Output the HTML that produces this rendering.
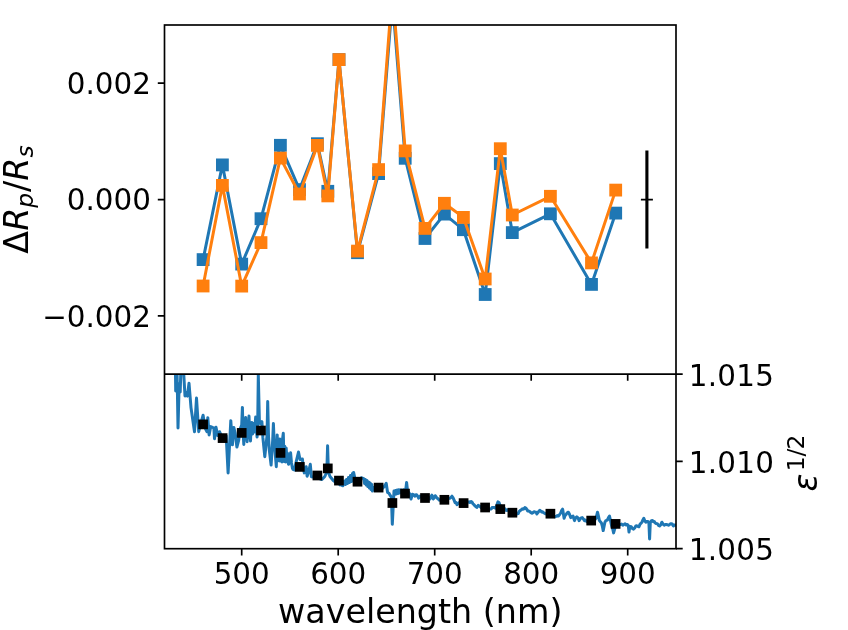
<!DOCTYPE html>
<html lang="en"><head><meta charset="utf-8"><title>wavelength plot</title>
<style>html,body{margin:0;padding:0;background:#fff}body{width:848px;height:630px;overflow:hidden}svg{display:block}text{font-family:"DejaVu Sans","Liberation Sans",sans-serif;fill:#000}.t{font-size:29.4px}.l{font-size:33.33px}.i{font-style:oblique}.s{font-size:23.33px}</style></head><body>
<svg width="848" height="630" viewBox="0 0 848 630">
<rect width="848" height="630" fill="#fff"/>
<defs><clipPath id="c1"><rect x="164.5" y="25.0" width="511.5" height="349.1"/></clipPath><clipPath id="c2"><rect x="164.5" y="374.1" width="511.5" height="174.60000000000002"/></clipPath></defs>
<g clip-path="url(#c2)"><polyline points="175.4,366.0 175.7,391.0 176.4,383.0 176.9,366.0 177.3,385.0 178.0,427.9 179.2,383.5 180.2,392.0 181.0,366.0 183.4,368.0 185.0,396.0 186.3,392.3 187.4,396.1 189.0,383.2 191.0,407.6 194.5,431.7 196.5,398.0 198.7,431.7 200.9,422.8 203.1,415.2 205.0,427.9 206.9,431.7 207.8,417.7 209.1,434.9 210.7,426.6 212.4,427.4 213.9,427.9 214.5,438.7 216.0,427.2 217.7,435.5 219.5,431.7 222.4,437.9 226.2,436.0 228.1,472.9 230.8,420.7 232.4,444.8 233.8,427.4 235.2,433.1 236.9,447.1 238.6,440.7 240.5,428.0 241.7,425.0 242.4,407.4 243.0,430.0 243.8,444.5 244.4,428.0 244.9,436.0 245.7,417.4 246.3,432.0 247.1,441.7 247.7,428.0 248.2,434.0 249.0,416.0 249.6,432.0 250.5,441.0 251.0,430.0 251.9,422.6 252.6,434.0 253.2,426.0 253.8,423.6 254.5,432.0 255.7,416.9 256.4,430.0 257.1,437.0 257.7,425.0 258.3,375.0 259.4,421.0 260.5,423.6 261.9,421.7 262.9,437.9 264.8,456.7 267.0,436.0 267.7,401.5 268.5,436.0 269.3,450.0 271.1,465.1 272.7,440.0 273.4,423.6 274.1,440.0 276.3,466.7 277.2,434.9 277.9,458.0 278.5,440.0 279.2,461.0 279.9,439.0 280.6,461.0 281.3,440.0 282.0,462.0 282.7,438.0 283.3,433.3 284.0,461.5 284.8,446.2 285.5,462.0 286.2,448.1 286.9,461.0 287.4,453.0 287.9,462.0 288.6,464.3 289.5,457.6 290.6,452.8 291.5,463.0 292.4,468.1 293.0,469.4 294.3,470.0 296.7,459.5 298.5,452.0 300.0,459.5 302.4,459.0 303.3,468.1 304.3,472.9 306.2,466.7 307.1,476.2 308.6,471.9 310.3,464.3 311.4,476.7 317.1,477.6 321.9,479.5 324.8,476.5 326.8,472.0 327.6,445.7 328.4,472.0 330.0,476.5 333.3,480.5 337.1,483.3 338.1,483.3 339.0,483.3 340.0,484.8 341.0,484.0 341.9,485.4 342.9,485.7 344.5,481.0 345.5,484.5 346.5,479.5 347.5,483.5 348.5,477.5 349.5,482.5 350.5,475.5 351.5,481.5 352.5,473.5 353.2,480.0 353.6,472.4 354.8,478.1 356.2,484.0 357.1,482.2 358.0,481.0 359.1,479.3 360.2,479.6 361.3,477.8 362.4,478.1 363.8,478.6 364.6,483.5 365.4,479.5 366.2,485.0 367.0,480.5 367.8,486.5 368.6,481.9 369.4,488.0 370.2,483.0 371.0,489.5 371.8,484.5 372.4,491.0 373.8,487.6 374.8,487.5 375.7,486.7 376.7,486.7 377.6,487.4 378.6,488.3 379.5,486.8 380.4,487.0 381.4,487.9 382.4,488.6 383.3,487.6 384.8,485.7 386.2,483.3 387.6,492.4 389.0,493.3 390.2,495.4 391.4,497.1 392.3,524.3 394.0,491.0 394.8,494.5 395.6,490.5 396.4,494.0 397.2,490.0 398.0,493.5 398.8,489.8 399.6,493.0 400.4,490.0 401.4,490.0 402.5,491.3 403.5,489.8 404.6,491.4 405.6,491.0 406.6,482.5 407.6,491.4 408.8,492.5 410.0,494.3 411.0,499.0 412.4,494.3 413.6,494.6 414.8,496.2 415.8,494.8 416.7,494.8 417.6,496.1 418.6,498.1 420.0,496.2 421.0,497.1 422.0,496.3 423.0,497.4 424.0,497.9 425.0,498.0 426.0,498.0 427.0,498.5 428.0,497.8 429.0,498.0 430.0,499.0 430.9,496.6 431.9,495.2 433.3,499.0 434.2,497.7 435.2,495.7 436.1,496.8 437.1,498.1 438.1,498.7 439.0,500.0 440.0,500.2 441.0,499.9 442.0,499.6 443.0,500.5 444.0,500.0 445.0,500.0 446.1,498.9 447.1,499.1 448.2,498.7 449.2,498.3 450.1,498.3 451.1,497.3 452.0,496.2 453.1,497.9 454.2,500.4 455.1,502.7 456.1,502.6 457.0,504.7 458.1,503.5 459.1,502.5 460.2,503.1 461.4,502.1 462.5,502.9 463.6,503.0 464.7,501.9 465.8,502.8 466.8,502.8 467.9,502.2 469.0,501.8 469.9,502.5 470.9,501.5 471.8,501.8 472.9,503.6 474.0,504.7 474.9,505.8 475.9,506.7 476.8,507.5 478.2,505.4 479.2,506.0 480.3,506.8 481.2,507.6 482.2,507.9 483.1,507.2 484.1,507.7 485.0,507.5 486.0,507.0 487.1,508.4 488.1,508.6 489.2,509.5 490.2,508.9 491.2,509.0 492.1,507.6 493.1,507.5 494.3,507.6 495.5,508.2 496.8,505.3 498.0,501.8 499.1,502.7 500.1,505.4 501.1,506.2 502.1,506.5 503.1,507.2 504.1,508.0 505.1,509.6 506.1,510.5 507.1,509.8 508.1,510.4 509.0,511.1 510.0,512.3 511.0,511.3 512.0,512.5 513.0,512.7 514.0,513.1 515.1,514.0 516.1,514.2 517.1,513.9 518.2,513.5 519.2,511.4 520.3,510.5 521.4,509.6 522.3,508.8 523.1,509.2 524.0,508.8 524.9,507.5 525.8,508.0 526.8,509.3 527.7,511.0 528.8,511.1 529.9,511.6 530.9,512.6 532.0,513.2 533.0,512.6 534.1,511.7 535.0,512.0 536.0,512.3 536.9,513.9 537.9,512.6 538.8,511.3 539.8,510.3 540.7,510.9 541.7,512.0 542.6,511.7 543.6,512.8 544.7,513.2 545.7,513.9 546.6,514.1 547.6,514.3 548.5,513.2 549.5,514.7 550.4,514.0 551.5,515.2 552.6,516.1 553.8,516.6 554.9,516.8 555.8,516.4 556.6,516.2 557.5,515.5 558.4,516.0 559.5,514.7 560.7,513.0 561.7,510.3 562.6,509.1 564.1,518.3 565.1,515.6 566.1,514.5 567.2,512.8 568.4,512.2 569.5,514.3 570.7,517.6 571.9,516.5 573.0,516.0 574.5,520.6 575.6,517.9 576.8,516.8 578.0,517.8 579.1,520.6 580.1,519.0 581.2,517.9 582.2,517.6 583.4,518.9 584.5,520.6 585.5,520.1 586.5,521.4 587.5,521.8 588.4,521.0 589.4,519.8 590.3,519.7 591.2,519.6 592.2,519.3 593.1,518.6 594.1,519.5 595.0,519.5 596.0,518.3 597.5,512.2 598.5,516.3 599.4,520.6 600.4,521.7 601.4,522.9 602.3,526.0 603.2,530.6 604.9,522.2 605.8,520.7 606.6,520.4 607.5,519.9 608.5,517.5 609.5,516.0 611.0,522.9 611.9,526.8 612.7,529.0 613.6,532.9 614.8,528.6 615.9,526.0 616.8,526.5 617.7,525.5 618.7,524.5 619.6,524.9 620.5,524.5 621.6,524.0 622.8,525.2 624.0,524.5 625.1,523.7 626.2,525.0 627.4,524.5 628.3,525.5 629.0,532.1 629.8,526.5 631.3,526.8 632.5,528.6 633.6,529.1 634.7,527.9 635.8,526.0 636.8,525.8 637.9,526.3 638.9,526.8 640.0,524.3 641.2,522.9 642.1,521.9 642.9,519.9 643.8,518.3 644.8,520.8 645.8,522.2 646.8,521.5 647.8,521.4 648.9,522.5 649.6,539.0 650.3,522.5 651.5,520.6 652.4,520.4 653.3,521.7 654.2,521.4 655.2,523.0 656.3,523.6 657.3,523.7 658.5,525.4 659.6,526.0 660.8,524.7 661.9,522.2 663.0,524.1 664.2,525.2 665.4,524.4 666.5,524.5 667.6,524.9 668.8,525.2 670.0,524.2 671.1,523.7 672.2,524.0 673.4,526.0 674.4,524.9 675.5,525.1 676.5,525.2" fill="none" stroke="#1f77b4" stroke-width="3.0" stroke-linejoin="round" stroke-linecap="butt"/>
<rect x="198.25" y="419.55" width="9.7" height="9.7" fill="#000"/><rect x="217.75" y="433.25" width="9.7" height="9.7" fill="#000"/><rect x="236.85" y="428.05" width="9.7" height="9.7" fill="#000"/><rect x="256.10" y="425.65" width="9.7" height="9.7" fill="#000"/><rect x="275.65" y="448.05" width="9.7" height="9.7" fill="#000"/><rect x="294.95" y="462.05" width="9.7" height="9.7" fill="#000"/><rect x="312.55" y="470.65" width="9.7" height="9.7" fill="#000"/><rect x="322.95" y="463.55" width="9.7" height="9.7" fill="#000"/><rect x="334.10" y="475.75" width="9.7" height="9.7" fill="#000"/><rect x="352.65" y="476.85" width="9.7" height="9.7" fill="#000"/><rect x="373.75" y="482.75" width="9.7" height="9.7" fill="#000"/><rect x="387.55" y="498.15" width="9.7" height="9.7" fill="#000"/><rect x="400.15" y="488.75" width="9.7" height="9.7" fill="#000"/><rect x="420.15" y="493.15" width="9.7" height="9.7" fill="#000"/><rect x="439.55" y="494.95" width="9.7" height="9.7" fill="#000"/><rect x="458.75" y="498.25" width="9.7" height="9.7" fill="#000"/><rect x="480.25" y="502.65" width="9.7" height="9.7" fill="#000"/><rect x="495.45" y="504.25" width="9.7" height="9.7" fill="#000"/><rect x="507.55" y="507.85" width="9.7" height="9.7" fill="#000"/><rect x="545.55" y="508.85" width="9.7" height="9.7" fill="#000"/><rect x="586.35" y="515.75" width="9.7" height="9.7" fill="#000"/><rect x="610.75" y="519.05" width="9.7" height="9.7" fill="#000"/></g>
<g clip-path="url(#c1)">
<polyline points="203.1,259.6 222.4,164.9 241.7,264.1 261.0,218.7 280.4,145.3 299.5,189.6 317.4,143.7 327.8,191.3 339.0,59.6 357.5,252.7 378.6,173.6 392.4,0.0 405.2,158.3 425.0,238.5 444.4,214.1 463.4,229.7 485.2,294.5 500.3,163.6 512.3,232.6 550.4,213.8 591.5,284.4 615.7,213.1" fill="none" stroke="#1f77b4" stroke-width="3.0" stroke-linejoin="round"/>
<rect x="196.70" y="253.20" width="12.8" height="12.8" fill="#1f77b4"/><rect x="216.00" y="158.50" width="12.8" height="12.8" fill="#1f77b4"/><rect x="235.30" y="257.70" width="12.8" height="12.8" fill="#1f77b4"/><rect x="254.60" y="212.30" width="12.8" height="12.8" fill="#1f77b4"/><rect x="274.00" y="138.90" width="12.8" height="12.8" fill="#1f77b4"/><rect x="293.10" y="183.20" width="12.8" height="12.8" fill="#1f77b4"/><rect x="311.00" y="137.30" width="12.8" height="12.8" fill="#1f77b4"/><rect x="321.40" y="184.90" width="12.8" height="12.8" fill="#1f77b4"/><rect x="332.60" y="53.20" width="12.8" height="12.8" fill="#1f77b4"/><rect x="351.10" y="246.30" width="12.8" height="12.8" fill="#1f77b4"/><rect x="372.20" y="167.20" width="12.8" height="12.8" fill="#1f77b4"/><rect x="386.00" y="-6.40" width="12.8" height="12.8" fill="#1f77b4"/><rect x="398.80" y="151.90" width="12.8" height="12.8" fill="#1f77b4"/><rect x="418.60" y="232.10" width="12.8" height="12.8" fill="#1f77b4"/><rect x="438.00" y="207.70" width="12.8" height="12.8" fill="#1f77b4"/><rect x="457.00" y="223.30" width="12.8" height="12.8" fill="#1f77b4"/><rect x="478.80" y="288.10" width="12.8" height="12.8" fill="#1f77b4"/><rect x="493.90" y="157.20" width="12.8" height="12.8" fill="#1f77b4"/><rect x="505.90" y="226.20" width="12.8" height="12.8" fill="#1f77b4"/><rect x="544.00" y="207.40" width="12.8" height="12.8" fill="#1f77b4"/><rect x="585.10" y="278.00" width="12.8" height="12.8" fill="#1f77b4"/><rect x="609.30" y="206.70" width="12.8" height="12.8" fill="#1f77b4"/>
<polyline points="203.1,286.0 222.4,185.4 241.7,286.1 261.0,242.6 280.4,158.1 299.5,194.0 317.4,145.4 327.8,195.9 339.0,59.6 357.5,251.1 378.6,169.6 392.4,-11.0 405.2,150.9 425.0,228.4 444.4,203.3 463.4,217.4 485.2,279.0 500.3,148.7 512.3,215.0 550.4,196.3 591.5,262.9 615.7,190.1" fill="none" stroke="#ff7f0e" stroke-width="3.0" stroke-linejoin="round"/>
<rect x="196.70" y="279.60" width="12.8" height="12.8" fill="#ff7f0e"/><rect x="216.00" y="179.00" width="12.8" height="12.8" fill="#ff7f0e"/><rect x="235.30" y="279.70" width="12.8" height="12.8" fill="#ff7f0e"/><rect x="254.60" y="236.20" width="12.8" height="12.8" fill="#ff7f0e"/><rect x="274.00" y="151.70" width="12.8" height="12.8" fill="#ff7f0e"/><rect x="293.10" y="187.60" width="12.8" height="12.8" fill="#ff7f0e"/><rect x="311.00" y="139.00" width="12.8" height="12.8" fill="#ff7f0e"/><rect x="321.40" y="189.50" width="12.8" height="12.8" fill="#ff7f0e"/><rect x="332.60" y="53.20" width="12.8" height="12.8" fill="#ff7f0e"/><rect x="351.10" y="244.70" width="12.8" height="12.8" fill="#ff7f0e"/><rect x="372.20" y="163.20" width="12.8" height="12.8" fill="#ff7f0e"/><rect x="386.00" y="-17.40" width="12.8" height="12.8" fill="#ff7f0e"/><rect x="398.80" y="144.50" width="12.8" height="12.8" fill="#ff7f0e"/><rect x="418.60" y="222.00" width="12.8" height="12.8" fill="#ff7f0e"/><rect x="438.00" y="196.90" width="12.8" height="12.8" fill="#ff7f0e"/><rect x="457.00" y="211.00" width="12.8" height="12.8" fill="#ff7f0e"/><rect x="478.80" y="272.60" width="12.8" height="12.8" fill="#ff7f0e"/><rect x="493.90" y="142.30" width="12.8" height="12.8" fill="#ff7f0e"/><rect x="505.90" y="208.60" width="12.8" height="12.8" fill="#ff7f0e"/><rect x="544.00" y="189.90" width="12.8" height="12.8" fill="#ff7f0e"/><rect x="585.10" y="256.50" width="12.8" height="12.8" fill="#ff7f0e"/><rect x="609.30" y="183.70" width="12.8" height="12.8" fill="#ff7f0e"/>
<line x1="646.9" y1="150.5" x2="646.9" y2="248.6" stroke="#000" stroke-width="3.1"/>
<line x1="640.9" y1="199.6" x2="652.9" y2="199.6" stroke="#000" stroke-width="1.8"/>
</g>
<path d="M241.7 374.1v6.7 M241.7 548.7v6.7 M338.2 374.1v6.7 M338.2 548.7v6.7 M434.7 374.1v6.7 M434.7 548.7v6.7 M531.2 374.1v6.7 M531.2 548.7v6.7 M627.7 374.1v6.7 M627.7 548.7v6.7 M164.5 83.2h-6.7 M164.5 199.55h-6.7 M164.5 315.9h-6.7 M676.0 374.1h6.7 M676.0 461.4h6.7 M676.0 548.7h6.7" stroke="#000" stroke-width="1.67" fill="none"/>
<rect x="164.5" y="25.0" width="511.5" height="523.7" fill="none" stroke="#000" stroke-width="1.67"/>
<line x1="164.5" y1="374.1" x2="676.0" y2="374.1" stroke="#000" stroke-width="1.85"/>
<text class="t" x="150.9" y="94.0" text-anchor="end">0.002</text>
<text class="t" x="150.9" y="210.4" text-anchor="end">0.000</text>
<text class="t" x="150.9" y="326.7" text-anchor="end">−0.002</text>
<text class="t" x="688.7" y="385.6" letter-spacing="0.25">1.015</text>
<text class="t" x="688.7" y="472.9" letter-spacing="0.25">1.010</text>
<text class="t" x="688.7" y="560.2" letter-spacing="0.25">1.005</text>
<text class="t" x="241.7" y="583.8" text-anchor="middle">500</text>
<text class="t" x="338.2" y="583.8" text-anchor="middle">600</text>
<text class="t" x="434.7" y="583.8" text-anchor="middle">700</text>
<text class="t" x="531.2" y="583.8" text-anchor="middle">800</text>
<text class="t" x="627.7" y="583.8" text-anchor="middle">900</text>
<text class="l" x="420.25" y="622.5" text-anchor="middle">wavelength (nm)</text>
<text class="l" transform="translate(27.6 199.55) rotate(-90)"><tspan x="-54.11" y="0.00">Δ</tspan><tspan x="-31.31" y="0.00" class="i">R</tspan><tspan x="-8.15" y="5.47" class="i s">p</tspan><tspan x="7.57" y="0.00">/</tspan><tspan x="18.80" y="0.00" class="i">R</tspan><tspan x="41.96" y="5.47" class="i s">s</tspan></text>
<text class="l" transform="translate(817.3 463.5) rotate(-90)"><tspan x="-28.10" y="0.00" class="i">ε</tspan><tspan x="-7.70" y="-13.23" class="s">1</tspan><tspan x="7.14" y="-13.23" class="s">/</tspan><tspan x="14.09" y="-13.23" class="s">2</tspan></text>
</svg></body></html>
